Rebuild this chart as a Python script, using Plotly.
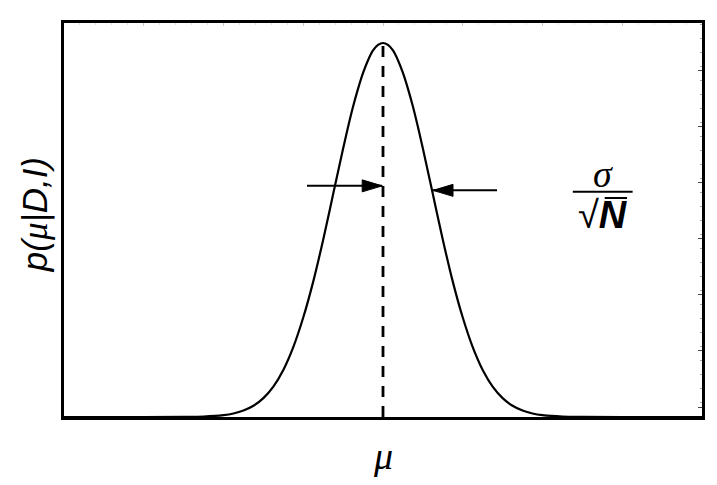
import plotly.graph_objects as go

# ---- data ----
mu = 0.0
x_vals = [-4.0, -3.0, -2.5, -2.25, -2.0, -1.875, -1.75, -1.625, -1.5, -1.375, -1.25, -1.125,
          -1.0, -0.875, -0.75, -0.625, -0.5, -0.4375, -0.375, -0.3125, -0.25, -0.1875,
          -0.125, -0.0625, 0.0,
          0.0625, 0.125, 0.1875, 0.25, 0.3125, 0.375, 0.4375, 0.5, 0.625, 0.75, 0.875,
          1.0, 1.125, 1.25, 1.375, 1.5, 1.625, 1.75, 1.875, 2.0, 2.25, 2.5, 3.0, 4.0]
y_vals = [0.0, 0.0, 0.0003, 0.0012, 0.005, 0.0094, 0.0172, 0.030, 0.0506, 0.0815, 0.126, 0.187,
          0.266, 0.362, 0.474, 0.596, 0.718, 0.776, 0.830, 0.878, 0.920, 0.954,
          0.980, 0.995, 1.0,
          0.995, 0.980, 0.954, 0.920, 0.878, 0.830, 0.776, 0.718, 0.596, 0.474, 0.362,
          0.266, 0.187, 0.126, 0.0815, 0.0506, 0.030, 0.0172, 0.0094, 0.005, 0.0012, 0.0003, 0.0, 0.0]
peak = 1.0
x_range = [-4.0, 4.0]
y_range = [0.0, 1.0535]

# arrows: (tail_x, tip_x, y)
left_arrow = (-0.953, -0.01, 0.618)
right_arrow = (1.43, 0.627, 0.606)

fig = go.Figure()

fig.add_trace(go.Scatter(x=x_vals, y=y_vals, mode="lines",
                         line=dict(color="black", width=2.2, shape="spline", smoothing=1.0),
                         hoverinfo="skip", showlegend=False))
fig.add_trace(go.Scatter(x=[mu, mu], y=[0, peak], mode="lines",
                         line=dict(color="black", width=2.8, dash="11px,9px"),
                         hoverinfo="skip", showlegend=False))
# dummy trace for the overlay axes (top / right ticks)
fig.add_trace(go.Scatter(x=[mu], y=[0], mode="lines", xaxis="x2", yaxis="y2",
                         hoverinfo="skip", showlegend=False))

shapes = []
for tail, tip, yy in (left_arrow, right_arrow):
    shapes.append(dict(type="line", xref="x", yref="y", x0=tail, x1=tip, y0=yy, y1=yy,
                       line=dict(color="black", width=2)))
    d = 1 if tip > tail else -1
    shapes.append(dict(type="path", xref="x", yref="y", xsizemode="pixel", ysizemode="pixel",
                       xanchor=tip, yanchor=yy,
                       path=f"M0,0 L{-20*d},6 L{-20*d},-6 Z",
                       fillcolor="black", line=dict(color="black", width=1)))
# fraction bar
shapes.append(dict(type="line", xref="x", yref="y", x0=2.38, x1=3.13, y0=0.602, y1=0.602,
                   line=dict(color="black", width=2)))
# sqrt vinculum over N
shapes.append(dict(type="line", xref="x", yref="y", x0=2.78, x1=3.06, y0=0.5856, y1=0.5856,
                   line=dict(color="black", width=2)))

fig.update_layout(
    width=717, height=485,
    margin=dict(l=56, r=23, t=15, b=76),
    plot_bgcolor="white", paper_bgcolor="white",
    shapes=shapes,
    xaxis=dict(range=x_range, showgrid=False, zeroline=False, showticklabels=False,
               ticks="", showline=True, linecolor="black", linewidth=2.5, mirror=True),
    yaxis=dict(range=y_range, showgrid=False, zeroline=False, showticklabels=False,
               ticks="", showline=True, linecolor="black", linewidth=2.5, mirror=True),
    xaxis2=dict(range=x_range, overlaying="x", side="top", showgrid=False, zeroline=False,
                showticklabels=False, showline=False, ticks="inside", ticklen=3,
                tickcolor="#c8c8c8", tickwidth=1, tick0=0, dtick=1,
                minor=dict(ticks="inside", ticklen=2, tickcolor="#e0e0e0", dtick=0.2)),
    yaxis2=dict(range=y_range, overlaying="y", side="right", showgrid=False, zeroline=False,
                showticklabels=False, showline=False, ticks="inside", ticklen=4,
                tickcolor="#444444", tickwidth=1, tick0=0.0267, dtick=0.15,
                minor=dict(ticks="inside", ticklen=2, tickcolor="#aaaaaa", dtick=0.0375)),
    annotations=[
        dict(text="<i>μ</i>", x=mu, xref="x", y=-0.1, yref="paper", showarrow=False,
             font=dict(family="Liberation Serif", size=38, color="black"),
             xanchor="center", yanchor="middle"),
        dict(text="<i>p(</i><span style='font-family:Liberation Serif'><i>μ</i></span><i>|D,I)</i>",
             x=-0.045, xref="paper", y=0.513, yref="paper", showarrow=False, textangle=-90,
             font=dict(family="Liberation Sans", size=35, color="black"),
             xanchor="center", yanchor="middle"),
        dict(text="<i>σ</i>", x=2.76, xref="x", y=0.65, yref="y", showarrow=False,
             font=dict(family="Liberation Serif", size=38, color="black"),
             xanchor="center", yanchor="middle"),
        dict(text="√<b><i>N</i></b>", x=2.76, xref="x", y=0.54, yref="y", showarrow=False,
             font=dict(family="Liberation Sans", size=38, color="black"),
             xanchor="center", yanchor="middle"),
    ],
)

fig.write_html("out.html")
